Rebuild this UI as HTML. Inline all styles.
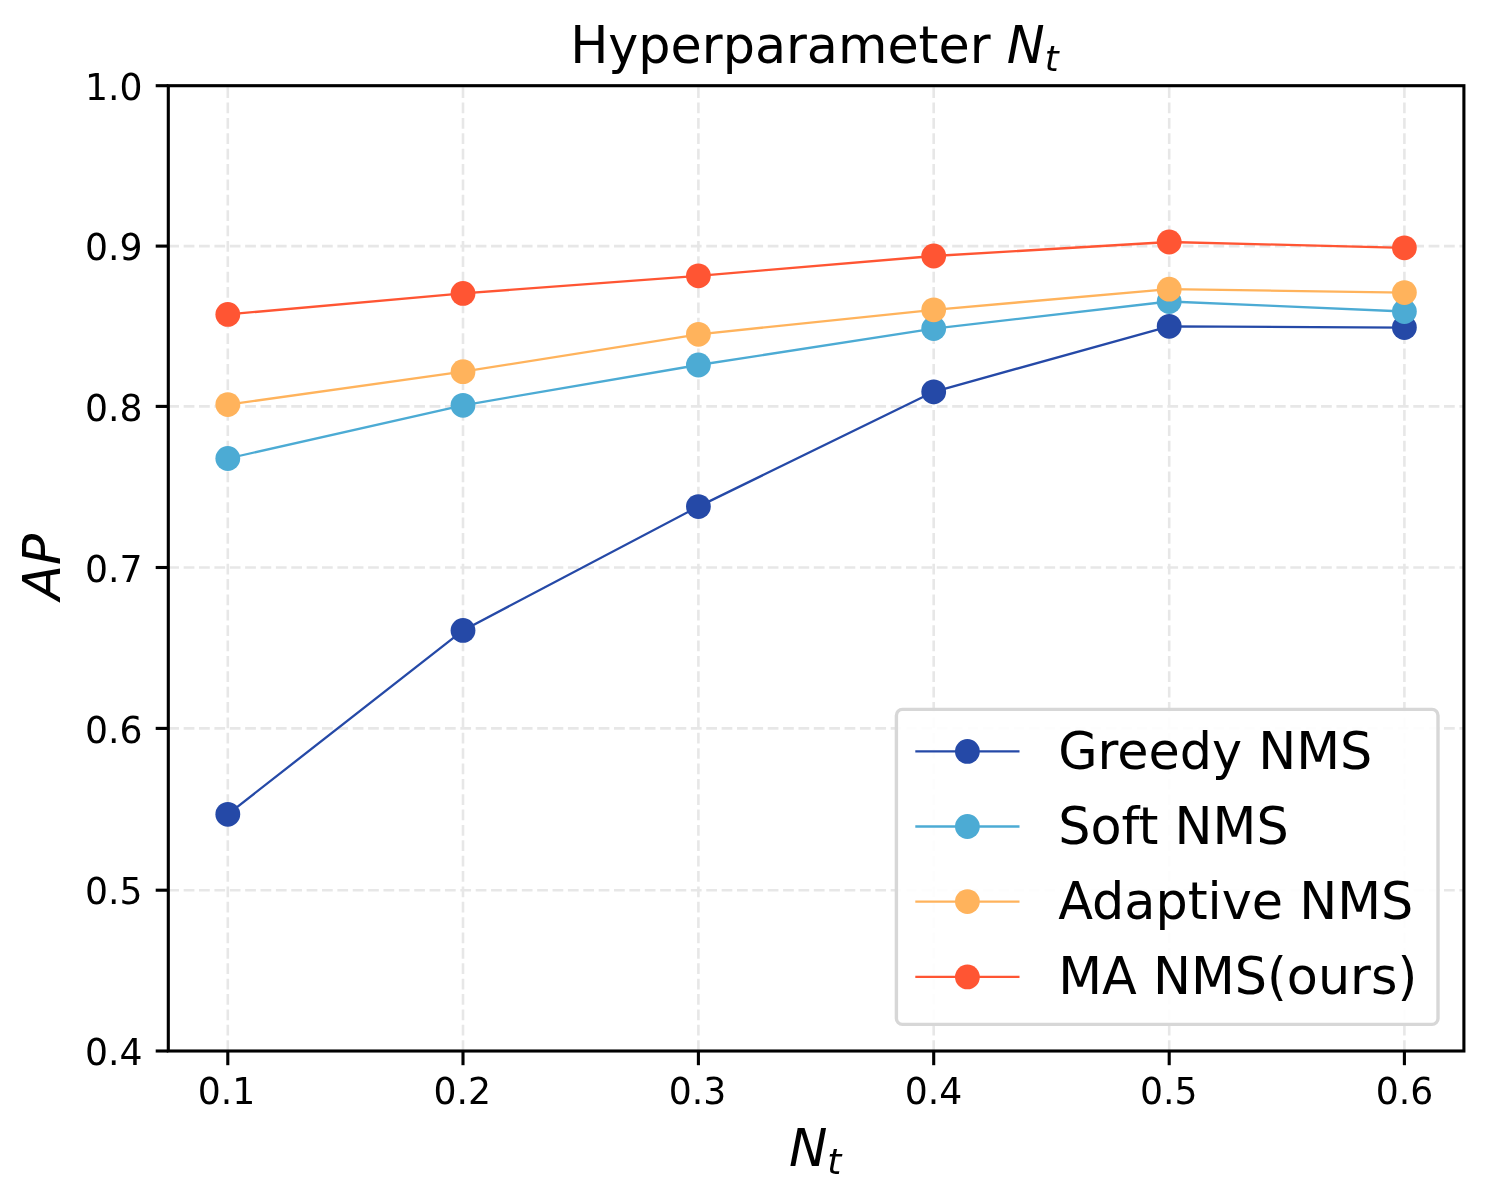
<!DOCTYPE html>
<html lang="en">
<head>
<meta charset="utf-8">
<title>Hyperparameter Nt</title>
<style>
html,body{margin:0;padding:0;background:#fff;}
body{width:1495px;height:1194px;overflow:hidden;}
svg{display:block;filter:blur(0.45px);}
text{font-family:"DejaVu Sans", "Liberation Sans", sans-serif;fill:#000;}
.it{font-style:italic;}
</style>
</head>
<body>
<svg width="1495" height="1194" viewBox="0 0 1495 1194">
<rect x="0" y="0" width="1495" height="1194" fill="#ffffff"/>
<g stroke="#e7e7e7" stroke-width="2.6" stroke-dasharray="10.73 4.64" fill="none">
<line x1="227.8" y1="1050.9" x2="227.8" y2="85.7"/>
<line x1="463.0" y1="1050.9" x2="463.0" y2="85.7"/>
<line x1="698.4" y1="1050.9" x2="698.4" y2="85.7"/>
<line x1="933.7" y1="1050.9" x2="933.7" y2="85.7"/>
<line x1="1169.2" y1="1050.9" x2="1169.2" y2="85.7"/>
<line x1="1404.4" y1="1050.9" x2="1404.4" y2="85.7"/>
<line x1="168.3" y1="246.1" x2="1463.9" y2="246.1"/>
<line x1="168.3" y1="406.4" x2="1463.9" y2="406.4"/>
<line x1="168.3" y1="567.5" x2="1463.9" y2="567.5"/>
<line x1="168.3" y1="728.4" x2="1463.9" y2="728.4"/>
<line x1="168.3" y1="890.2" x2="1463.9" y2="890.2"/>
</g>
<g fill="#2549a7" stroke="none">
<polyline points="227.8,814.3 463.0,630.4 698.4,506.6 933.7,391.8 1169.2,326.3 1404.4,327.6" fill="none" stroke="#2549a7" stroke-width="2.3" stroke-linejoin="round"/>
<circle cx="227.8" cy="814.3" r="12.4"/>
<circle cx="463.0" cy="630.4" r="12.4"/>
<circle cx="698.4" cy="506.6" r="12.4"/>
<circle cx="933.7" cy="391.8" r="12.4"/>
<circle cx="1169.2" cy="326.3" r="12.4"/>
<circle cx="1404.4" cy="327.6" r="12.4"/>
</g>
<g fill="#4cabd4" stroke="none">
<polyline points="227.8,458.5 463.0,405.3 698.4,365.0 933.7,328.6 1169.2,301.5 1404.4,311.5" fill="none" stroke="#4cabd4" stroke-width="2.3" stroke-linejoin="round"/>
<circle cx="227.8" cy="458.5" r="12.4"/>
<circle cx="463.0" cy="405.3" r="12.4"/>
<circle cx="698.4" cy="365.0" r="12.4"/>
<circle cx="933.7" cy="328.6" r="12.4"/>
<circle cx="1169.2" cy="301.5" r="12.4"/>
<circle cx="1404.4" cy="311.5" r="12.4"/>
</g>
<g fill="#ffb35c" stroke="none">
<polyline points="227.8,404.6 463.0,371.7 698.4,334.3 933.7,309.8 1169.2,289.2 1404.4,292.6" fill="none" stroke="#ffb35c" stroke-width="2.3" stroke-linejoin="round"/>
<circle cx="227.8" cy="404.6" r="12.4"/>
<circle cx="463.0" cy="371.7" r="12.4"/>
<circle cx="698.4" cy="334.3" r="12.4"/>
<circle cx="933.7" cy="309.8" r="12.4"/>
<circle cx="1169.2" cy="289.2" r="12.4"/>
<circle cx="1404.4" cy="292.6" r="12.4"/>
</g>
<g fill="#ff5533" stroke="none">
<polyline points="227.8,314.4 463.0,293.4 698.4,275.8 933.7,256.0 1169.2,242.0 1404.4,247.8" fill="none" stroke="#ff5533" stroke-width="2.3" stroke-linejoin="round"/>
<circle cx="227.8" cy="314.4" r="12.4"/>
<circle cx="463.0" cy="293.4" r="12.4"/>
<circle cx="698.4" cy="275.8" r="12.4"/>
<circle cx="933.7" cy="256.0" r="12.4"/>
<circle cx="1169.2" cy="242.0" r="12.4"/>
<circle cx="1404.4" cy="247.8" r="12.4"/>
</g>
<g stroke="#000" stroke-width="3.1">
<line x1="227.8" y1="1051.0" x2="227.8" y2="1065.2"/>
<line x1="463.0" y1="1051.0" x2="463.0" y2="1065.2"/>
<line x1="698.4" y1="1051.0" x2="698.4" y2="1065.2"/>
<line x1="933.7" y1="1051.0" x2="933.7" y2="1065.2"/>
<line x1="1169.2" y1="1051.0" x2="1169.2" y2="1065.2"/>
<line x1="1404.4" y1="1051.0" x2="1404.4" y2="1065.2"/>
<line x1="155.7" y1="85.7" x2="168.3" y2="85.7"/>
<line x1="155.7" y1="246.1" x2="168.3" y2="246.1"/>
<line x1="155.7" y1="406.4" x2="168.3" y2="406.4"/>
<line x1="155.7" y1="567.5" x2="168.3" y2="567.5"/>
<line x1="155.7" y1="728.4" x2="168.3" y2="728.4"/>
<line x1="155.7" y1="890.2" x2="168.3" y2="890.2"/>
<line x1="155.7" y1="1051.0" x2="168.3" y2="1051.0"/>
</g>
<rect x="168.3" y="85.7" width="1295.6" height="965.3" fill="none" stroke="#000" stroke-width="3.1" stroke-linejoin="miter"/>
<g font-size="36.2">
<text transform="translate(226.5,1104.0) scale(1,1.03)" text-anchor="middle">0.1</text>
<text transform="translate(462.2,1104.0) scale(1,1.03)" text-anchor="middle">0.2</text>
<text transform="translate(697.6,1104.0) scale(1,1.03)" text-anchor="middle">0.3</text>
<text transform="translate(933.4,1104.0) scale(1,1.03)" text-anchor="middle">0.4</text>
<text transform="translate(1168.7,1104.0) scale(1,1.03)" text-anchor="middle">0.5</text>
<text transform="translate(1404.4,1104.0) scale(1,1.03)" text-anchor="middle">0.6</text>
<text transform="translate(142.6,99.8) scale(1,1.035)" text-anchor="end">1.0</text>
<text transform="translate(142.6,260.2) scale(1,1.035)" text-anchor="end">0.9</text>
<text transform="translate(142.6,420.5) scale(1,1.035)" text-anchor="end">0.8</text>
<text transform="translate(142.6,581.6) scale(1,1.035)" text-anchor="end">0.7</text>
<text transform="translate(142.6,742.5) scale(1,1.035)" text-anchor="end">0.6</text>
<text transform="translate(142.6,904.3) scale(1,1.035)" text-anchor="end">0.5</text>
<text transform="translate(142.6,1065.1) scale(1,1.035)" text-anchor="end">0.4</text>
</g>
<text x="814.4" y="63" text-anchor="middle" font-size="50.75">Hyperparameter <tspan class="it">N</tspan><tspan class="it" font-size="35.5" dy="8.2">t</tspan></text>
<text x="815.2" y="1166.4" text-anchor="middle" font-size="51.4"><tspan class="it">N</tspan><tspan class="it" font-size="36" dy="8">t</tspan></text>
<text transform="translate(59.6,567) rotate(-90)" text-anchor="middle" font-size="51.4" class="it">AP</text>
<rect x="896.4" y="709.4" width="541.6" height="315" rx="6" ry="6" fill="#ffffff" fill-opacity="0.92" stroke="#d7d7d7" stroke-width="3.4"/>
<g fill="#2549a7"><line x1="915.3" y1="751.4" x2="1019.5" y2="751.4" stroke="#2549a7" stroke-width="2.3"/><circle cx="967.4" cy="751.4" r="12.4"/></g>
<text x="1058.2" y="768.6" font-size="50.8">Greedy NMS</text>
<g fill="#4cabd4"><line x1="915.3" y1="826.5" x2="1019.5" y2="826.5" stroke="#4cabd4" stroke-width="2.3"/><circle cx="967.4" cy="826.5" r="12.4"/></g>
<text x="1058.2" y="843.7" font-size="50.8">Soft NMS</text>
<g fill="#ffb35c"><line x1="915.3" y1="901.6" x2="1019.5" y2="901.6" stroke="#ffb35c" stroke-width="2.3"/><circle cx="967.4" cy="901.6" r="12.4"/></g>
<text x="1058.2" y="918.8" font-size="50.8">Adaptive NMS</text>
<g fill="#ff5533"><line x1="915.3" y1="976.9" x2="1019.5" y2="976.9" stroke="#ff5533" stroke-width="2.3"/><circle cx="967.4" cy="976.9" r="12.4"/></g>
<text x="1058.2" y="994.1" font-size="50.8">MA NMS(ours)</text>
</svg>
</body>
</html>
